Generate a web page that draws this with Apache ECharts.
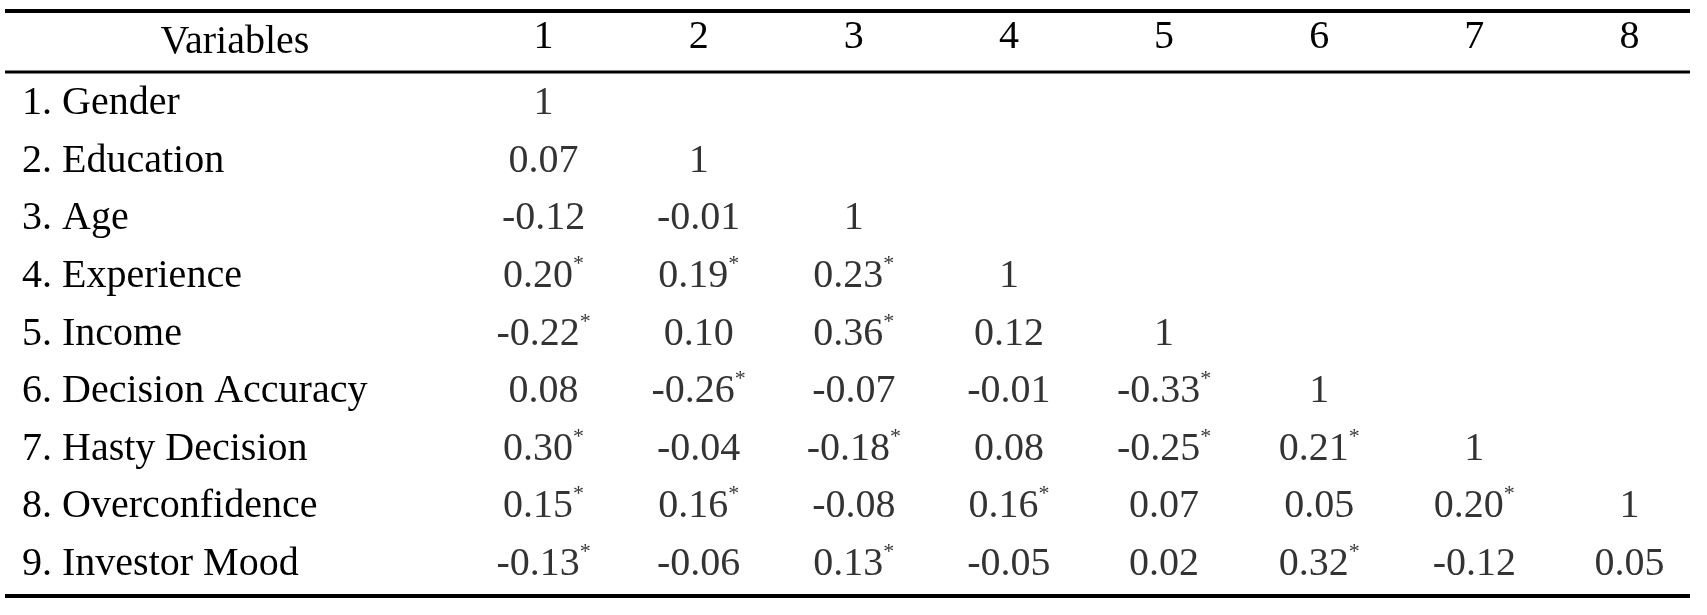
<!DOCTYPE html><html><head><meta charset="utf-8"><script src="https://cdn.jsdelivr.net/npm/echarts@6/dist/echarts.min.js"></script>
<style>html,body{margin:0;background:#fff}#c{width:1707px;height:615px}</style></head><body><div id="c"></div><script>
const rowLabels=['1. Gender','2. Education','3. Age','4. Experience','5. Income','6. Decision Accuracy','7. Hasty Decision','8. Overconfidence','9. Investor Mood'];
const colLabels=['1','2','3','4','5','6','7','8'];
const values=[
['1'],
['0.07','1'],
['-0.12','-0.01','1'],
['0.20*','0.19*','0.23*','1'],
['-0.22*','0.10','0.36*','0.12','1'],
['0.08','-0.26*','-0.07','-0.01','-0.33*','1'],
['0.30*','-0.04','-0.18*','0.08','-0.25*','0.21*','1'],
['0.15*','0.16*','-0.08','0.16*','0.07','0.05','0.20*','1'],
['-0.13*','-0.06','0.13*','-0.05','0.02','0.32*','-0.12','0.05']];
const data=[];
values.forEach((r,i)=>r.forEach((v,j)=>data.push({value:[j,i],txt:v})));
const F='"Liberation Serif","Times New Roman",serif';
const ch=echarts.init(document.getElementById('c'));
ch.setOption({animation:false,
grid:{left:466,top:75,width:1245,height:518},
xAxis:{type:'category',data:colLabels,position:'top',axisLine:{show:false},axisTick:{show:false},splitLine:{show:false},
 axisLabel:{margin:18,color:'#000',fontFamily:F,fontSize:40}},
yAxis:{type:'category',data:rowLabels,inverse:true,axisLine:{show:false},axisTick:{show:false},
 axisLabel:{margin:444,align:'left',color:'#000',fontFamily:F,fontSize:40}},
graphic:[
{type:'text',x:235,y:42,style:{text:'Variables',font:'40px '+F,fill:'#000',align:'center',verticalAlign:'middle'}},
{type:'line',shape:{x1:5,y1:11,x2:1690,y2:11},style:{stroke:'#000',lineWidth:4}},
{type:'line',shape:{x1:5,y1:72,x2:1690,y2:72},style:{stroke:'#000',lineWidth:3}},
{type:'line',shape:{x1:5,y1:596,x2:1690,y2:596},style:{stroke:'#000',lineWidth:4}}],
series:[{type:'scatter',data:data,symbolSize:1,itemStyle:{color:'rgba(0,0,0,0)'},
 label:{show:true,position:'inside',color:'#000',fontFamily:F,
  formatter:p=>{const v=p.data.txt;return v.endsWith('*')?'{v|'+v.slice(0,-1)+'}{s|*}':'{v|'+v+'}';},
  rich:{v:{fontSize:40,fontFamily:F,color:'#000'},s:{fontSize:22,fontFamily:F,color:'#000',padding:[0,0,24,0]}}}}]
});
</script></body></html>
